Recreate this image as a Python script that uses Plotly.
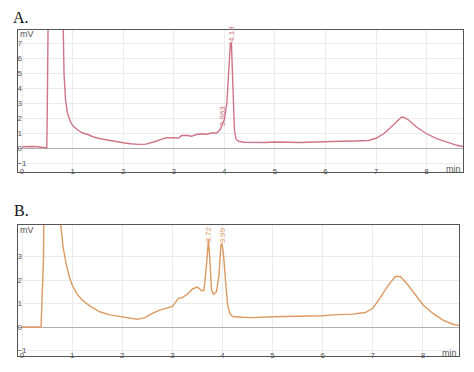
import plotly.graph_objects as go

# Panel A chromatogram (time in min, signal in mV)
a_time = [0.00, 0.10, 0.20, 0.30, 0.40, 0.47, 0.49, 0.50, 0.52, 0.55, 0.75, 0.80, 0.83, 0.86, 0.90,
          0.95, 1.00, 1.10, 1.20, 1.30, 1.40, 1.55, 1.70, 1.85, 2.00, 2.15, 2.30, 2.45, 2.55,
          2.65, 2.75, 2.85, 3.00, 3.10, 3.15, 3.25, 3.35, 3.45, 3.55, 3.65, 3.75, 3.85, 3.92,
          3.963, 4.00, 4.05, 4.09, 4.12, 4.14, 4.16, 4.18, 4.20, 4.23, 4.28, 4.40, 4.60, 4.80,
          5.00, 5.20, 5.50, 5.80, 6.00, 6.30, 6.60, 6.85, 7.00, 7.15, 7.30, 7.40, 7.50, 7.55,
          7.65, 7.80, 8.00, 8.20, 8.40, 8.60, 8.72]
a_signal = [0.08, 0.10, 0.10, 0.08, 0.05, 0.02, 0.00, 3.0, 12.0, 20.0, 20.0, 9.0, 5.0, 3.2, 2.3,
            1.8, 1.5, 1.2, 1.0, 0.9, 0.75, 0.62, 0.52, 0.42, 0.35, 0.28, 0.24, 0.26, 0.33,
            0.45, 0.58, 0.68, 0.68, 0.66, 0.82, 0.85, 0.78, 0.90, 0.95, 0.92, 1.00, 1.00, 1.25,
            1.55, 1.9, 3.0, 5.5, 7.0, 7.0, 5.0, 2.5, 1.2, 0.6, 0.45, 0.38, 0.36, 0.37,
            0.40, 0.38, 0.37, 0.40, 0.43, 0.45, 0.47, 0.50, 0.65, 0.95, 1.40, 1.75, 2.05, 2.05,
            1.85, 1.40, 0.95, 0.62, 0.38, 0.18, 0.10]
a_peaks = [3.963, 4.13]
a_peak_labels = ["3.963", "4.13"]
a_peak_label_y = [2.15, 7.6]

# Panel B chromatogram
b_time = [0.00, 0.20, 0.38, 0.43, 0.45, 0.75, 0.77, 0.82, 0.88, 0.95, 1.00, 1.10, 1.20, 1.35,
          1.55, 1.75, 2.00, 2.20, 2.30, 2.45, 2.60, 2.75, 2.90, 3.00, 3.08, 3.12, 3.20, 3.30,
          3.40, 3.50, 3.58, 3.63, 3.68, 3.72, 3.75, 3.78, 3.82, 3.88, 3.93, 3.97, 3.99, 4.02,
          4.06, 4.10, 4.14, 4.20, 4.40, 4.60, 5.00, 5.50, 6.00, 6.30, 6.60, 6.85, 7.00, 7.15,
          7.30, 7.45, 7.55, 7.70, 7.85, 8.00, 8.20, 8.40, 8.60, 8.72]
b_signal = [0.00, 0.00, 0.00, 3.0, 10.0, 10.0, 4.4, 3.4, 2.7, 2.1, 1.8, 1.4, 1.15, 0.9,
            0.65, 0.52, 0.42, 0.35, 0.33, 0.40, 0.58, 0.72, 0.80, 0.88, 1.10, 1.22, 1.25, 1.40,
            1.62, 1.70, 1.55, 1.55, 2.6, 3.72, 2.8, 1.6, 1.40, 1.50, 2.2, 3.5, 3.55, 3.1,
            2.0, 1.0, 0.6, 0.45, 0.42, 0.40, 0.44, 0.45, 0.48, 0.53, 0.55, 0.62, 0.80, 1.25,
            1.75, 2.15, 2.15, 1.80, 1.35, 0.95, 0.58, 0.30, 0.12, 0.07]
b_peaks = [3.72, 3.99]
b_peak_labels = ["3.72", "3.99"]
b_peak_label_y = [3.95, 3.9]

x_ticks = [0, 1, 2, 3, 4, 5, 6, 7, 8]
a_y_ticks = [-1, 0, 1, 2, 3, 4, 5, 6, 7]
b_y_ticks = [-1, 0, 1, 2, 3]

A_COLOR = "#cf7587"
B_COLOR = "#dd9a60"
OFF = 8  # page body margin
W, H = 474 - OFF, 372 - OFF


def px(v):
    return (v - OFF) / W


def py(v):
    return 1 - (v - OFF) / H


fig = go.Figure()
fig.add_trace(go.Scatter(x=a_time, y=a_signal, mode="lines", line=dict(color=A_COLOR, width=1.4),
                         xaxis="x", yaxis="y", showlegend=False, hoverinfo="skip"))
fig.add_trace(go.Scatter(x=b_time, y=b_signal, mode="lines", line=dict(color=B_COLOR, width=1.4),
                         xaxis="x2", yaxis="y2", showlegend=False, hoverinfo="skip"))

tickfont = dict(family="Liberation Sans, Arial", size=8, color="#555")
unitfont = dict(family="Liberation Sans, Arial", size=9, color="#555")
common_x = dict(range=[-0.08, 8.72], tickvals=x_ticks, showgrid=True, gridcolor="#ebebeb",
                gridwidth=1, showline=True, linecolor="#555", linewidth=1, mirror=True,
                ticks="", ticklabelposition="inside", ticklabeloverflow="allow",
                ticklabelstandoff=-5, tickfont=tickfont, zeroline=False)
common_y = dict(showgrid=True, gridcolor="#ebebeb", gridwidth=1, showline=True, linecolor="#555",
                linewidth=1, mirror=True, ticks="", ticklabelposition="inside",
                ticklabeloverflow="allow", ticklabelstandoff=-2, tickfont=tickfont,
                zeroline=True, zerolinecolor="#b0b0b0", zerolinewidth=1)

fig.update_layout(
    width=W, height=H, margin=dict(l=0, r=0, t=0, b=0),
    paper_bgcolor="white", plot_bgcolor="white",
    xaxis=dict(domain=[px(18), px(463)], anchor="y", **common_x),
    yaxis=dict(domain=[py(172), py(30)], anchor="x", range=[-1.6, 7.87],
               tickvals=a_y_ticks, **common_y),
    xaxis2=dict(domain=[px(18), px(459)], anchor="y2", **common_x),
    yaxis2=dict(domain=[py(356), py(225)], anchor="x2", range=[-1.23, 4.34],
                tickvals=b_y_ticks, **common_y),
)

ann = []
for xv, lab, yv in zip(a_peaks, a_peak_labels, a_peak_label_y):
    ann.append(dict(x=xv, y=yv, xref="x", yref="y", text=lab, textangle=-90, showarrow=False,
                    font=dict(family="Liberation Sans, Arial", size=8, color=A_COLOR)))
for xv, lab, yv in zip(b_peaks, b_peak_labels, b_peak_label_y):
    ann.append(dict(x=xv, y=yv, xref="x2", yref="y2", text=lab, textangle=-90, showarrow=False,
                    font=dict(family="Liberation Sans, Arial", size=8, color=B_COLOR)))

# panel letters and unit labels
serif = dict(family="Liberation Serif, Times New Roman", size=16, color="#111")
ann.append(dict(x=px(12), y=1.0, xref="paper", yref="paper", text="A.", showarrow=False,
                xanchor="left", yanchor="top", borderpad=0, font=serif))
ann.append(dict(x=px(12), y=py(210), xref="paper", yref="paper", text="B.", showarrow=False,
                xanchor="left", yanchor="middle", font=serif))
ann.append(dict(x=px(18), y=py(34), xref="paper", yref="paper", text="mV", showarrow=False,
                xanchor="left", yanchor="middle", font=unitfont))
ann.append(dict(x=px(18), y=py(230), xref="paper", yref="paper", text="mV", showarrow=False,
                xanchor="left", yanchor="middle", font=unitfont))
ann.append(dict(x=px(463), y=py(169), xref="paper", yref="paper", text="min", showarrow=False,
                xanchor="right", yanchor="middle", font=unitfont))
ann.append(dict(x=px(459), y=py(353), xref="paper", yref="paper", text="min", showarrow=False,
                xanchor="right", yanchor="middle", font=unitfont))
fig.update_layout(annotations=ann)

fig.write_html("out.html")
